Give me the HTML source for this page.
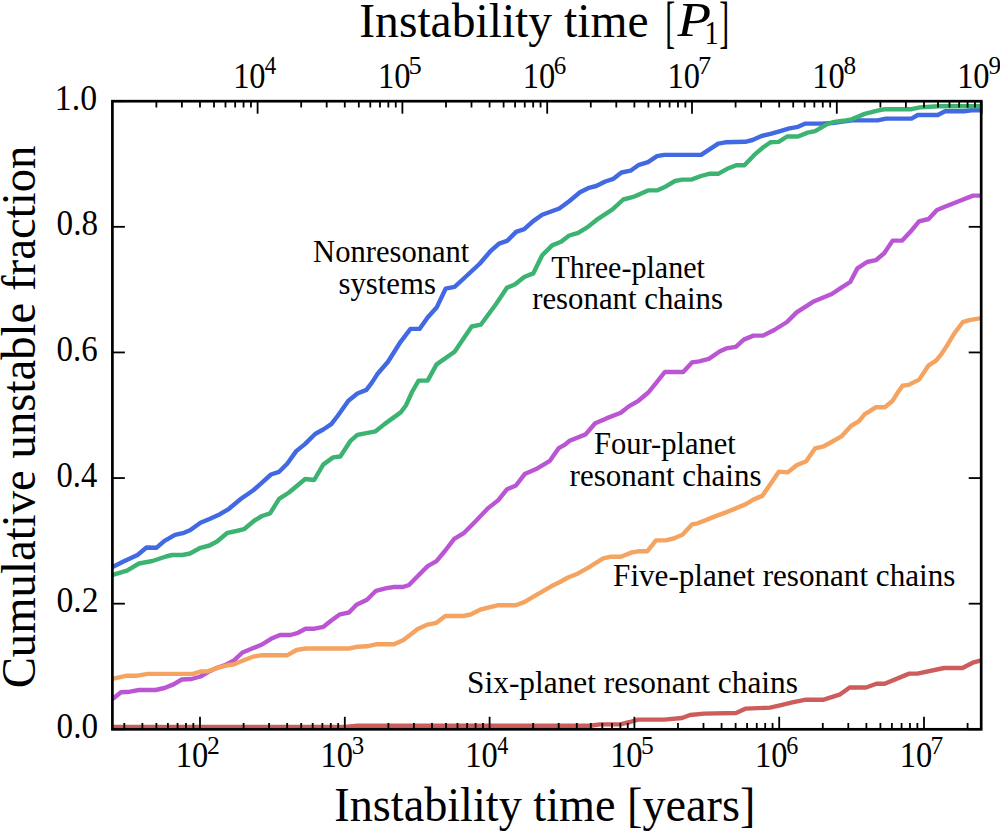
<!DOCTYPE html>
<html><head><meta charset="utf-8"><style>
html,body{margin:0;padding:0;background:#fff;}
svg{display:block;}
text{font-family:"Liberation Serif",serif;fill:#000;}
</style></head><body>
<svg width="1000" height="833" viewBox="0 0 1000 833">
<rect width="1000" height="833" fill="#fff"/>
<g fill="none" stroke-width="4.4" stroke-linejoin="round" stroke-linecap="butt">
<polyline stroke="#4169E1" points="112.4,567.3 113.5,566.5 124.0,561.3 137.5,555.0 146.5,547.5 156.3,547.8 164.5,540.8 175.0,534.8 184.0,532.8 190.0,530.3 200.5,522.8 209.5,519.0 220.0,514.2 229.0,508.8 241.0,498.8 253.0,490.5 262.0,482.6 271.0,474.5 279.1,471.8 287.2,463.7 296.2,451.1 305.2,443.9 315.1,434.0 323.2,429.5 331.3,424.1 337.6,416.0 348.4,400.7 357.4,393.5 366.4,389.9 371.9,382.7 377.2,374.3 388.0,361.7 400.6,341.8 410.5,328.9 419.5,328.9 427.6,317.5 436.6,307.6 445.6,288.7 454.6,286.9 465.4,277.0 479.9,263.5 490.0,251.7 499.0,243.6 507.1,240.9 516.1,231.9 524.2,229.2 533.2,221.1 542.2,214.8 559.3,208.5 569.2,201.3 580.0,192.3 589.0,187.8 596.2,186.0 605.3,181.5 613.4,178.8 621.5,172.5 630.5,170.7 639.0,164.8 648.0,162.1 657.0,156.2 664.2,154.9 701.1,154.9 718.2,143.6 725.4,142.3 745.3,141.8 752.5,140.0 761.5,136.0 770.5,133.9 778.6,131.6 789.4,128.3 798.0,126.8 805.5,123.6 821.6,123.6 832.4,123.0 851.7,120.4 877.5,120.4 886.1,118.6 911.5,118.6 917.8,115.0 937.8,115.0 945.1,111.3 964.0,111.3 971.3,110.2 981.2,110.2"/>
<polyline stroke="#3CB371" points="112.4,575.0 113.5,574.6 127.0,570.6 139.0,563.5 152.5,561.0 166.0,556.5 172.0,555.0 182.5,555.0 190.0,553.5 200.5,547.8 209.5,545.5 217.0,541.5 227.5,532.8 236.5,531.0 244.0,529.2 254.5,520.5 262.0,516.0 270.1,513.3 279.1,498.9 289.0,492.5 305.2,479.0 314.2,480.0 323.2,464.6 333.1,457.4 340.3,456.5 350.2,441.2 357.4,434.9 375.5,431.3 384.5,424.1 400.7,412.4 406.1,405.2 412.0,392.0 418.6,380.6 427.6,380.6 436.6,364.4 454.6,351.7 471.7,326.5 480.8,324.7 496.1,304.0 506.9,287.8 515.2,284.2 524.2,277.0 533.2,273.4 542.2,255.3 552.1,245.4 561.1,241.8 569.2,235.5 578.2,232.8 587.2,227.4 596.2,220.2 612.5,209.4 623.3,199.5 632.3,197.2 640.0,194.1 648.0,190.4 657.0,190.4 664.2,187.3 675.0,181.0 682.2,179.6 691.2,179.6 701.1,176.0 709.2,173.8 718.2,173.8 727.2,168.8 736.2,165.2 744.4,165.2 754.3,154.9 763.3,147.2 770.5,142.3 778.6,141.9 787.2,136.5 798.0,136.5 807.6,132.6 815.2,131.1 828.0,123.6 834.5,121.9 843.1,120.8 851.7,119.3 864.6,113.9 877.5,110.7 885.2,109.2 911.5,109.2 919.9,107.4 930.4,106.8 938.8,106.2 981.2,106.2"/>
<polyline stroke="#BA55D3" points="112.4,699.0 113.5,698.2 121.0,692.2 130.0,691.7 139.0,690.0 155.5,690.0 164.5,688.0 173.5,684.4 181.8,679.5 191.5,679.0 200.5,676.5 208.0,672.0 217.0,667.8 226.0,664.8 233.5,660.8 242.5,652.5 251.5,648.8 262.0,644.5 271.0,638.8 280.0,635.0 290.5,635.0 298.0,632.8 305.5,628.7 314.5,628.7 323.5,626.8 331.0,620.8 340.0,614.3 349.0,612.5 356.5,604.7 367.0,599.8 376.0,590.8 386.5,588.2 394.0,587.0 403.0,587.0 409.0,585.0 417.6,576.2 427.7,566.1 436.5,561.1 445.3,550.5 454.2,538.9 464.2,532.8 475.6,521.3 488.2,508.1 498.3,500.1 507.1,489.2 515.9,485.5 524.7,474.1 536.1,469.1 549.9,460.8 558.8,448.1 565.0,444.6 569.6,440.8 585.6,434.4 595.2,423.2 606.4,418.4 620.8,412.8 628.8,406.4 638.4,400.8 648.0,392.8 656.0,383.2 664.8,372.0 683.2,372.0 692.0,362.4 699.2,361.3 708.8,358.9 720.0,351.2 726.2,348.4 735.8,346.8 743.8,339.6 753.4,335.6 763.0,335.6 774.2,330.0 787.0,322.0 796.6,312.4 814.2,301.2 831.8,294.0 841.4,287.6 850.2,282.0 857.4,268.4 867.0,262.0 875.8,260.2 884.2,253.2 892.6,240.6 902.2,240.6 910.6,231.6 919.0,221.4 928.6,219.0 937.0,210.0 944.2,207.0 956.2,202.2 973.0,195.6 981.2,195.6"/>
<polyline stroke="#F4A460" points="112.4,679.0 113.5,678.7 127.0,675.7 137.5,675.7 148.0,673.9 193.0,673.9 200.5,671.5 208.0,671.2 220.0,667.2 227.5,665.3 233.5,664.5 242.5,660.8 253.0,656.7 262.0,655.2 287.5,655.2 296.5,650.0 305.5,648.5 349.0,648.5 358.0,646.7 367.0,646.3 376.0,644.3 394.0,644.3 403.0,640.3 412.0,633.5 417.6,629.1 427.7,624.6 436.5,622.8 445.3,616.0 463.0,616.0 470.5,614.5 480.6,609.5 498.3,605.2 515.9,605.2 524.7,601.9 536.1,595.1 551.2,586.3 560.0,582.0 568.0,577.5 577.6,573.7 588.8,567.3 603.2,558.3 611.2,556.7 620.8,556.7 632.0,552.4 638.4,551.3 647.2,551.3 656.0,540.4 665.6,540.4 673.6,538.5 682.4,534.8 692.0,524.4 697.6,523.3 707.2,519.6 715.0,516.4 724.6,512.9 735.8,508.4 745.4,504.4 753.4,499.6 762.2,495.9 770.2,484.4 779.0,471.6 787.8,472.4 796.6,465.2 806.2,461.2 815.0,448.4 823.8,446.3 830.2,442.8 841.4,436.4 851.0,426.0 859.0,421.2 865.0,413.9 869.0,411.7 875.6,407.3 884.8,407.3 892.7,400.7 898.0,392.1 902.6,385.8 908.6,384.9 919.1,379.6 923.1,373.6 928.4,365.7 936.3,360.4 941.6,353.8 946.8,345.9 954.8,332.7 962.7,322.2 969.3,320.2 981.2,318.2"/>
<polyline stroke="#CD5C5C" points="112.4,727.0 345.0,727.0 358.0,725.8 590.0,725.8 600.0,724.4 620.0,724.4 630.0,722.0 638.0,719.6 664.0,719.6 682.0,718.0 690.0,715.0 704.0,713.6 736.0,713.0 746.0,708.6 770.0,707.6 780.0,705.3 792.3,702.3 804.6,699.8 823.0,699.8 839.5,694.7 849.7,687.5 866.1,687.5 876.4,683.8 884.6,683.8 909.2,673.6 917.4,673.6 944.0,668.0 962.5,668.0 972.7,662.7 981.2,660.3"/>
</g>
<g stroke="#000" stroke-width="1.8">
<line x1="124.29" y1="729.3" x2="124.29" y2="723.0"/>
<line x1="142.38" y1="729.3" x2="142.38" y2="723.0"/>
<line x1="156.41" y1="729.3" x2="156.41" y2="723.0"/>
<line x1="167.88" y1="729.3" x2="167.88" y2="723.0"/>
<line x1="177.57" y1="729.3" x2="177.57" y2="723.0"/>
<line x1="185.97" y1="729.3" x2="185.97" y2="723.0"/>
<line x1="193.37" y1="729.3" x2="193.37" y2="723.0"/>
<line x1="200.00" y1="729.3" x2="200.00" y2="716.8"/>
<line x1="243.59" y1="729.3" x2="243.59" y2="723.0"/>
<line x1="269.09" y1="729.3" x2="269.09" y2="723.0"/>
<line x1="287.18" y1="729.3" x2="287.18" y2="723.0"/>
<line x1="301.21" y1="729.3" x2="301.21" y2="723.0"/>
<line x1="312.68" y1="729.3" x2="312.68" y2="723.0"/>
<line x1="322.37" y1="729.3" x2="322.37" y2="723.0"/>
<line x1="330.77" y1="729.3" x2="330.77" y2="723.0"/>
<line x1="338.17" y1="729.3" x2="338.17" y2="723.0"/>
<line x1="344.80" y1="729.3" x2="344.80" y2="716.8"/>
<line x1="388.39" y1="729.3" x2="388.39" y2="723.0"/>
<line x1="413.89" y1="729.3" x2="413.89" y2="723.0"/>
<line x1="431.98" y1="729.3" x2="431.98" y2="723.0"/>
<line x1="446.01" y1="729.3" x2="446.01" y2="723.0"/>
<line x1="457.48" y1="729.3" x2="457.48" y2="723.0"/>
<line x1="467.17" y1="729.3" x2="467.17" y2="723.0"/>
<line x1="475.57" y1="729.3" x2="475.57" y2="723.0"/>
<line x1="482.97" y1="729.3" x2="482.97" y2="723.0"/>
<line x1="489.60" y1="729.3" x2="489.60" y2="716.8"/>
<line x1="533.19" y1="729.3" x2="533.19" y2="723.0"/>
<line x1="558.69" y1="729.3" x2="558.69" y2="723.0"/>
<line x1="576.78" y1="729.3" x2="576.78" y2="723.0"/>
<line x1="590.81" y1="729.3" x2="590.81" y2="723.0"/>
<line x1="602.28" y1="729.3" x2="602.28" y2="723.0"/>
<line x1="611.97" y1="729.3" x2="611.97" y2="723.0"/>
<line x1="620.37" y1="729.3" x2="620.37" y2="723.0"/>
<line x1="627.77" y1="729.3" x2="627.77" y2="723.0"/>
<line x1="634.40" y1="729.3" x2="634.40" y2="716.8"/>
<line x1="677.99" y1="729.3" x2="677.99" y2="723.0"/>
<line x1="703.49" y1="729.3" x2="703.49" y2="723.0"/>
<line x1="721.58" y1="729.3" x2="721.58" y2="723.0"/>
<line x1="735.61" y1="729.3" x2="735.61" y2="723.0"/>
<line x1="747.08" y1="729.3" x2="747.08" y2="723.0"/>
<line x1="756.77" y1="729.3" x2="756.77" y2="723.0"/>
<line x1="765.17" y1="729.3" x2="765.17" y2="723.0"/>
<line x1="772.57" y1="729.3" x2="772.57" y2="723.0"/>
<line x1="779.20" y1="729.3" x2="779.20" y2="716.8"/>
<line x1="822.79" y1="729.3" x2="822.79" y2="723.0"/>
<line x1="848.29" y1="729.3" x2="848.29" y2="723.0"/>
<line x1="866.38" y1="729.3" x2="866.38" y2="723.0"/>
<line x1="880.41" y1="729.3" x2="880.41" y2="723.0"/>
<line x1="891.88" y1="729.3" x2="891.88" y2="723.0"/>
<line x1="901.57" y1="729.3" x2="901.57" y2="723.0"/>
<line x1="909.97" y1="729.3" x2="909.97" y2="723.0"/>
<line x1="917.37" y1="729.3" x2="917.37" y2="723.0"/>
<line x1="924.00" y1="729.3" x2="924.00" y2="716.8"/>
<line x1="967.59" y1="729.3" x2="967.59" y2="723.0"/>
<line x1="156.39" y1="101.2" x2="156.39" y2="107.5"/>
<line x1="181.89" y1="101.2" x2="181.89" y2="107.5"/>
<line x1="199.98" y1="101.2" x2="199.98" y2="107.5"/>
<line x1="214.01" y1="101.2" x2="214.01" y2="107.5"/>
<line x1="225.48" y1="101.2" x2="225.48" y2="107.5"/>
<line x1="235.17" y1="101.2" x2="235.17" y2="107.5"/>
<line x1="243.57" y1="101.2" x2="243.57" y2="107.5"/>
<line x1="250.97" y1="101.2" x2="250.97" y2="107.5"/>
<line x1="257.60" y1="101.2" x2="257.60" y2="113.7"/>
<line x1="301.19" y1="101.2" x2="301.19" y2="107.5"/>
<line x1="326.69" y1="101.2" x2="326.69" y2="107.5"/>
<line x1="344.78" y1="101.2" x2="344.78" y2="107.5"/>
<line x1="358.81" y1="101.2" x2="358.81" y2="107.5"/>
<line x1="370.28" y1="101.2" x2="370.28" y2="107.5"/>
<line x1="379.97" y1="101.2" x2="379.97" y2="107.5"/>
<line x1="388.37" y1="101.2" x2="388.37" y2="107.5"/>
<line x1="395.77" y1="101.2" x2="395.77" y2="107.5"/>
<line x1="402.40" y1="101.2" x2="402.40" y2="113.7"/>
<line x1="445.99" y1="101.2" x2="445.99" y2="107.5"/>
<line x1="471.49" y1="101.2" x2="471.49" y2="107.5"/>
<line x1="489.58" y1="101.2" x2="489.58" y2="107.5"/>
<line x1="503.61" y1="101.2" x2="503.61" y2="107.5"/>
<line x1="515.08" y1="101.2" x2="515.08" y2="107.5"/>
<line x1="524.77" y1="101.2" x2="524.77" y2="107.5"/>
<line x1="533.17" y1="101.2" x2="533.17" y2="107.5"/>
<line x1="540.57" y1="101.2" x2="540.57" y2="107.5"/>
<line x1="547.20" y1="101.2" x2="547.20" y2="113.7"/>
<line x1="590.79" y1="101.2" x2="590.79" y2="107.5"/>
<line x1="616.29" y1="101.2" x2="616.29" y2="107.5"/>
<line x1="634.38" y1="101.2" x2="634.38" y2="107.5"/>
<line x1="648.41" y1="101.2" x2="648.41" y2="107.5"/>
<line x1="659.88" y1="101.2" x2="659.88" y2="107.5"/>
<line x1="669.57" y1="101.2" x2="669.57" y2="107.5"/>
<line x1="677.97" y1="101.2" x2="677.97" y2="107.5"/>
<line x1="685.37" y1="101.2" x2="685.37" y2="107.5"/>
<line x1="692.00" y1="101.2" x2="692.00" y2="113.7"/>
<line x1="735.59" y1="101.2" x2="735.59" y2="107.5"/>
<line x1="761.09" y1="101.2" x2="761.09" y2="107.5"/>
<line x1="779.18" y1="101.2" x2="779.18" y2="107.5"/>
<line x1="793.21" y1="101.2" x2="793.21" y2="107.5"/>
<line x1="804.68" y1="101.2" x2="804.68" y2="107.5"/>
<line x1="814.37" y1="101.2" x2="814.37" y2="107.5"/>
<line x1="822.77" y1="101.2" x2="822.77" y2="107.5"/>
<line x1="830.17" y1="101.2" x2="830.17" y2="107.5"/>
<line x1="836.80" y1="101.2" x2="836.80" y2="113.7"/>
<line x1="880.39" y1="101.2" x2="880.39" y2="107.5"/>
<line x1="905.89" y1="101.2" x2="905.89" y2="107.5"/>
<line x1="923.98" y1="101.2" x2="923.98" y2="107.5"/>
<line x1="938.01" y1="101.2" x2="938.01" y2="107.5"/>
<line x1="949.48" y1="101.2" x2="949.48" y2="107.5"/>
<line x1="959.17" y1="101.2" x2="959.17" y2="107.5"/>
<line x1="967.57" y1="101.2" x2="967.57" y2="107.5"/>
<line x1="974.97" y1="101.2" x2="974.97" y2="107.5"/>
<line x1="981.60" y1="101.2" x2="981.60" y2="113.7"/>
<line x1="112.4" y1="729.30" x2="124.9" y2="729.30"/>
<line x1="981.2" y1="729.30" x2="968.7" y2="729.30"/>
<line x1="112.4" y1="603.68" x2="124.9" y2="603.68"/>
<line x1="981.2" y1="603.68" x2="968.7" y2="603.68"/>
<line x1="112.4" y1="478.06" x2="124.9" y2="478.06"/>
<line x1="981.2" y1="478.06" x2="968.7" y2="478.06"/>
<line x1="112.4" y1="352.44" x2="124.9" y2="352.44"/>
<line x1="981.2" y1="352.44" x2="968.7" y2="352.44"/>
<line x1="112.4" y1="226.82" x2="124.9" y2="226.82"/>
<line x1="981.2" y1="226.82" x2="968.7" y2="226.82"/>
<line x1="112.4" y1="101.20" x2="124.9" y2="101.20"/>
<line x1="981.2" y1="101.20" x2="968.7" y2="101.20"/>
</g>
<rect x="112.4" y="101.2" width="868.8" height="628.1" fill="none" stroke="#000" stroke-width="2.7"/>
<g>
<text transform="translate(56.53,737.80) scale(0.3322,0.3600)" font-size="100">0.0</text>
<text transform="translate(56.52,612.18) scale(0.3372,0.3600)" font-size="100">0.2</text>
<text transform="translate(56.56,486.56) scale(0.3260,0.3600)" font-size="100">0.4</text>
<text transform="translate(56.54,360.94) scale(0.3299,0.3600)" font-size="100">0.6</text>
<text transform="translate(56.53,235.32) scale(0.3322,0.3600)" font-size="100">0.8</text>
<text transform="translate(54.83,109.70) scale(0.3381,0.3600)" font-size="100">1.0</text>
<text transform="translate(175.74,766.80) scale(0.3249,0.3600)" font-size="100">10</text>
<text transform="translate(206.97,754.20) scale(0.2569,0.2480)" font-size="100">2</text>
<text transform="translate(320.54,766.80) scale(0.3249,0.3600)" font-size="100">10</text>
<text transform="translate(351.71,754.20) scale(0.2493,0.2480)" font-size="100">3</text>
<text transform="translate(465.34,766.80) scale(0.3249,0.3600)" font-size="100">10</text>
<text transform="translate(497.27,754.20) scale(0.2216,0.2480)" font-size="100">4</text>
<text transform="translate(610.14,766.80) scale(0.3249,0.3600)" font-size="100">10</text>
<text transform="translate(641.01,754.20) scale(0.2557,0.2480)" font-size="100">5</text>
<text transform="translate(754.94,766.80) scale(0.3249,0.3600)" font-size="100">10</text>
<text transform="translate(786.26,754.20) scale(0.2411,0.2480)" font-size="100">6</text>
<text transform="translate(899.74,766.80) scale(0.3249,0.3600)" font-size="100">10</text>
<text transform="translate(930.42,754.20) scale(0.2541,0.2480)" font-size="100">7</text>
<text transform="translate(233.14,87.80) scale(0.3249,0.3600)" font-size="100">10</text>
<text transform="translate(264.85,74.40) scale(0.2302,0.2480)" font-size="100">4</text>
<text transform="translate(377.94,87.80) scale(0.3249,0.3600)" font-size="100">10</text>
<text transform="translate(408.56,74.40) scale(0.2656,0.2480)" font-size="100">5</text>
<text transform="translate(522.74,87.80) scale(0.3249,0.3600)" font-size="100">10</text>
<text transform="translate(553.82,74.40) scale(0.2504,0.2480)" font-size="100">6</text>
<text transform="translate(667.54,87.80) scale(0.3249,0.3600)" font-size="100">10</text>
<text transform="translate(697.96,74.40) scale(0.2640,0.2480)" font-size="100">7</text>
<text transform="translate(812.34,87.80) scale(0.3249,0.3600)" font-size="100">10</text>
<text transform="translate(843.54,74.40) scale(0.2525,0.2480)" font-size="100">8</text>
<text transform="translate(957.14,87.80) scale(0.3249,0.3600)" font-size="100">10</text>
<text transform="translate(988.49,74.40) scale(0.2507,0.2480)" font-size="100">9</text>
<text transform="translate(334.33,821.00) scale(0.4623,0.4800)" font-size="100">Instability time [years]</text>
<text transform="translate(359.28,37.00) scale(0.4757,0.4800)" font-size="100">Instability time</text>
<text transform="translate(665.20,40.60) scale(0.2964,0.5650)" font-size="100">[</text>
<text transform="translate(719.13,40.60) scale(0.2964,0.5650)" font-size="100">]</text>
<text transform="translate(677.60,36.30) scale(0.5501,0.4800)" font-size="100" font-style="italic">P</text>
<text transform="translate(704.50,44.00) scale(0.2840,0.3300)" font-size="100">1</text>
<g transform="translate(34.8,686.4) rotate(-90)"><text transform="translate(-1.92,0) scale(0.4676,0.4750)" font-size="100">Cumulative unstable fraction</text></g>
<text transform="translate(313.12,262.40) scale(0.3058,0.3250)" font-size="100">Nonresonant</text>
<text transform="translate(338.44,293.90) scale(0.3078,0.3250)" font-size="100">systems</text>
<text transform="translate(551.36,278.20) scale(0.3007,0.3250)" font-size="100">Three-planet</text>
<text transform="translate(532.18,309.40) scale(0.3083,0.3250)" font-size="100">resonant chains</text>
<text transform="translate(593.92,454.00) scale(0.3056,0.3250)" font-size="100">Four-planet</text>
<text transform="translate(569.58,485.50) scale(0.3100,0.3250)" font-size="100">resonant chains</text>
<text transform="translate(613.10,586.40) scale(0.3114,0.3250)" font-size="100">Five-planet resonant chains</text>
<text transform="translate(467.10,693.30) scale(0.3137,0.3250)" font-size="100">Six-planet resonant chains</text>
</g>
</svg>
</body></html>
